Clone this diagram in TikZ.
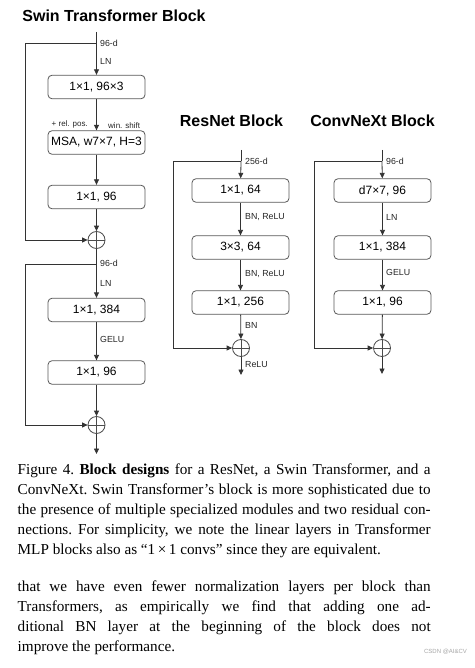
\documentclass[tikz,border=0pt]{standalone}
\usepackage{fontspec}
\setmainfont{Liberation Serif}
\setsansfont{Liberation Sans}
\usetikzlibrary{arrows.meta}
\begin{document}
\begin{tikzpicture}[x=1pt,y=-1pt,
 blk/.style={draw=black!65, rounded corners=4pt, minimum width=97pt, minimum height=23.5pt, font=\sffamily\fontsize{12}{14}\selectfont, inner sep=0pt, line width=0.8pt},
 lbl/.style={font=\sffamily\fontsize{8.8}{10}\selectfont, inner sep=0pt, anchor=west, text=black!85},
 slbl/.style={font=\sffamily\fontsize{8}{10}\selectfont, inner sep=0pt, text=black!85},
 ttl/.style={font=\sffamily\bfseries\fontsize{16}{18}\selectfont, inner sep=0pt},
 addc/.style={circle, draw=black!70, minimum size=17pt, inner sep=0pt, line width=0.8pt,
   path picture={\draw[line width=1pt] (path picture bounding box.north) -- (path picture bounding box.south) (path picture bounding box.west) -- (path picture bounding box.east);}},
 ln/.style={draw=black!80, line width=0.8pt},
 arr/.style={ln, -{Triangle[length=5.5pt,width=5pt]}},
 captxt/.style={font=\fontsize{15.2}{20}\selectfont, inner sep=0pt, anchor=north west, text width=413pt, align=justify},
]
\useasboundingbox[fill=white] (0,0) rectangle (474,668);

% ---------------- Swin Transformer Block ----------------
\node[ttl] (t1) at (114,16) {Swin Transformer Block};
\coordinate (s0) at (96.5,32);
\coordinate (s1) at (96.5,43);
\coordinate (k1) at (25,43);
\coordinate (k2) at (25,240);
\node[blk] (a1) at (96.5,87) {1×1, 96×3};
\node[blk] (a2) at (96.5,142.5) {MSA, w7×7, H=3};
\node[blk] (a3) at (96.5,197) {1×1, 96};
\node[addc] (p1) at (96.5,240) {};
\coordinate (s2) at (96.5,264);
\coordinate (k3) at (25,264);
\coordinate (k4) at (25,425);
\node[blk] (a4) at (96.5,310) {1×1, 384};
\node[blk] (a5) at (96.5,372.5) {1×1, 96};
\node[addc] (p2) at (96.5,425) {};
\coordinate (s3) at (96.5,454);

\draw[ln] (s0) -- (s1);
\draw[arr] (s1) -- (a1);
\draw[arr] (s1) -- (k1) -- (k2) -- (p1);
\draw[arr] (a1) -- (a2);
\draw[arr] (a2) -- (a3);
\draw[arr] (a3) -- (p1);
\draw[ln] (p1) -- (s2);
\draw[arr] (s2) -- (a4);
\draw[arr] (s2) -- (k3) -- (k4) -- (p2);
\draw[arr] (a4) -- (a5);
\draw[arr] (a5) -- (p2);
\draw[arr] (p2) -- (s3);

\node[lbl] (l1) at (100,43) {96-d};
\node[lbl] (l2) at (100,61) {LN};
\node[slbl, anchor=east] (l3) at (88,124) {+ rel. pos.};
\node[slbl, anchor=west] (l4) at (108,125.5) {win. shift};
\node[lbl] (l5) at (100,263) {96-d};
\node[lbl] (l6) at (100,283) {LN};
\node[lbl] (l7) at (100,339) {GELU};

% ---------------- ResNet Block ----------------
\node[ttl] (t2) at (231.5,121) {ResNet Block};
\coordinate (r0) at (241,150);
\coordinate (r1) at (241,161);
\coordinate (rk1) at (173,161);
\coordinate (rk2) at (173,348);
\node[blk] (b1) at (240.5,190.5) {1×1, 64};
\node[blk] (b2) at (240.5,247.5) {3×3, 64};
\node[blk] (b3) at (240.5,302.5) {1×1, 256};
\node[addc] (rp) at (241,348) {};
\coordinate (r2) at (241,375);

\draw[ln] (r0) -- (r1);
\draw[arr] (r1) -- (b1);
\draw[arr] (r1) -- (rk1) -- (rk2) -- (rp);
\draw[arr] (b1) -- (b2);
\draw[arr] (b2) -- (b3);
\draw[arr] (b3) -- (rp);
\draw[arr] (rp) -- (r2);

\node[lbl] (m1) at (245,161) {256-d};
\node[lbl] (m2) at (245,217) {BN, ReLU};
\node[lbl] (m3) at (245,274) {BN, ReLU};
\node[lbl] (m4) at (245,325) {BN};
\node[lbl] (m5) at (245,365) {ReLU};

% ---------------- ConvNeXt Block ----------------
\node[ttl] (t3) at (372.5,121) {ConvNeXt Block};
\coordinate (c0) at (382,150);
\coordinate (c1) at (382,161);
\coordinate (ck1) at (314,161);
\coordinate (ck2) at (314,348);
\node[blk] (d1) at (382.5,190.5) {d7×7, 96};
\node[blk] (d2) at (382.5,247.5) {1×1, 384};
\node[blk] (d3) at (382.5,302.5) {1×1, 96};
\node[addc] (cp) at (382,348) {};
\coordinate (c2) at (382,374);

\draw[ln] (c0) -- (c1);
\draw[arr] (c1) -- (d1);
\draw[arr] (c1) -- (ck1) -- (ck2) -- (cp);
\draw[arr] (d1) -- (d2);
\draw[arr] (d2) -- (d3);
\draw[arr] (d3) -- (cp);
\draw[arr] (cp) -- (c2);

\node[lbl] (n1) at (386,161) {96-d};
\node[lbl] (n2) at (386,217) {LN};
\node[lbl] (n3) at (386,272) {GELU};

% ---------------- Caption ----------------
\node[captxt] (cap1) at (17.5,460) {\frenchspacing\hyphenpenalty=10000\strut Figure 4. \textbf{Block designs} for a ResNet, a Swin Transformer, and a\linebreak
ConvNeXt. Swin Transformer's block is more sophisticated due to\linebreak
the presence of multiple specialized modules and two residual con-\linebreak
nections. For simplicity, we note the linear layers in Transformer\linebreak
MLP blocks also as ``1\,×\,1 convs'' since they are equivalent.};

\node[captxt] (cap2) at (17.5,577) {\frenchspacing\hyphenpenalty=10000\strut that we have even fewer normalization layers per block than\linebreak
Transformers, as empirically we find that adding one ad-\linebreak
ditional BN layer at the beginning of the block does not\linebreak
improve the performance.};

\node[font=\sffamily\fontsize{6}{7}\selectfont, text=black!35, inner sep=0pt] (wm) at (445.5,652) {CSDN @AI\&CV};
\end{tikzpicture}
\end{document}
